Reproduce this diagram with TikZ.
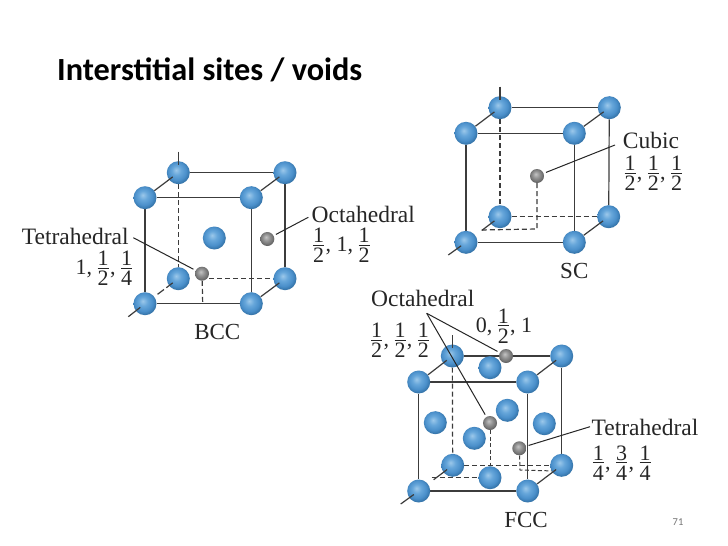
\documentclass[tikz,border=0pt]{standalone}
\usepackage{fontspec}
\setmainfont{Liberation Serif}
\newfontfamily\titlefont[Ligatures=Common]{Carlito}
\usetikzlibrary{backgrounds}
\definecolor{bHi}{HTML}{9CC8EA}
\definecolor{bMid}{HTML}{66A6DA}
\definecolor{bLow}{HTML}{4A8FCA}
\definecolor{bEdge}{HTML}{2A6698}
\definecolor{gHi}{HTML}{C4C4C4}
\definecolor{gMid}{HTML}{949494}
\definecolor{gLow}{HTML}{6C6C6C}
\definecolor{gEdge}{HTML}{444444}
\definecolor{lineC}{HTML}{3C3C3C}
\pgfdeclareradialshading{blueball}{\pgfpoint{-5bp}{6bp}}{color(0bp)=(bHi);color(10bp)=(bMid);color(20bp)=(bLow);color(30bp)=(bEdge);color(50bp)=(bEdge)}
\pgfdeclareradialshading{grayball}{\pgfpoint{-5bp}{7bp}}{color(0bp)=(gHi);color(12bp)=(gMid);color(24bp)=(gLow);color(32bp)=(gEdge);color(50bp)=(gEdge)}
\newcommand\fr[2]{\begingroup\renewcommand\arraystretch{.3}\setlength\arrayrulewidth{.7pt}\begin{tabular}[c]{@{}c@{}}#1\\\hline\rule{0pt}{17pt}#2\end{tabular}\endgroup\kern1.3pt}
\tikzset{
 ball/.style={circle,inner sep=0pt,minimum size=23pt,shading=blueball},
 gball/.style={circle,inner sep=0pt,minimum size=14pt,shading=grayball},
 cubeedge/.style={draw=lineC,line width=1.2pt},
 hid/.style={draw=lineC,line width=1.2pt,dash pattern=on 5pt off 3pt},
 thinhid/.style={draw=lineC,line width=1pt,dash pattern=on 4pt off 2.5pt},
 leader/.style={draw=black!85,line width=1pt,shorten >=2.5pt},
 lbl/.style={inner sep=0pt,anchor=base west,font=\fontsize{23.5}{26}\selectfont,text=black!85},
 lblc/.style={inner sep=0pt,anchor=base,font=\fontsize{23}{26}\selectfont,text=black!85},
 nums/.style={inner sep=0pt,anchor=west,font=\fontsize{22}{24}\selectfont,text=black!85},
}
\begin{document}
\begin{tikzpicture}[x=1pt,y=-1pt]
\useasboundingbox (0,0) rectangle (728,546);
\begin{scope}[on background layer]
\fill[white] (0,0) rectangle (728,546);
\end{scope}
\node[inner sep=0pt,anchor=base west,font=\titlefont\bfseries\fontsize{32.3}{36}\selectfont,text=black] (title) at (57,80) {Interstitial sites / voids};
\node[inner sep=0pt,font=\titlefont\fontsize{10.5}{12}\selectfont,text=black!55] (pnum) at (678,522) {71};

% ---------- BCC
\node[ball] (btbl) at (178.3,172.7) {};
\node[ball] (btbr) at (285,172.7) {};
\node[ball] (btfl) at (145,197.7) {};
\node[ball] (btfr) at (251.3,197.7) {};
\node[ball] (bbbl) at (178.3,278.7) {};
\node[ball] (bbbr) at (285,278.7) {};
\node[ball] (bbfl) at (145,303.7) {};
\node[ball] (bbfr) at (251.3,303.7) {};
\node[ball] (bcen) at (214.3,238) {};
\node[gball] (boct) at (267.3,239) {};
\node[gball] (btet) at (202,273.7) {};
\coordinate (bstub1) at (178.3,151.7);
\coordinate (bstub2) at (128.3,316.7);
\coordinate (bfoot) at (202.7,303.7);
\coordinate (bdash) at (209,278.7);
\begin{scope}[on background layer]
\draw[cubeedge] (btbl)--(btbr);
\draw[cubeedge] (btfl)--(btfr);
\draw[cubeedge] (btfl)--(bbfl);
\draw[cubeedge] (btfr)--(bbfr);
\draw[cubeedge] (btbr)--(bbbr);
\draw[cubeedge] (bbfl)--(bbfr);
\draw[hid] (btbl)--(bbbl);
\draw[hid] (bdash)--(bbbr);
\draw[hid] (btet)--(bfoot);
\end{scope}
\draw[cubeedge,shorten >=7pt] (btfl)--(btbl.center);
\draw[cubeedge,shorten >=7pt] (btfr)--(btbr.center);
\draw[cubeedge,shorten >=7pt] (bbfr)--(bbbr.center);
\draw[cubeedge,shorten >=7pt,shorten <=4pt,dash pattern=on 8pt off 3pt] (bbfl)--(bbbl.center);
\draw[cubeedge,shorten >=8pt] (bstub1)--(btbl.center);
\draw[cubeedge,shorten >=6pt] (bstub2)--(bbfl.center);
\node[lbl] (btxo) at (311.5,222.7) {Octahedral};
\node[nums] (bnumo) at (313,246.7) {\fr12, 1, \fr12};
\node[lbl] (btxt) at (21.7,244) {Tetrahedral};
\node[nums,anchor=east] (bnumt) at (133.5,269.5) {1, \fr12, \fr14};
\node[lblc] (bname) at (217.3,339) {BCC};
\coordinate (bl1) at (133.3,237.7);
\coordinate (bl2) at (308.3,217.3);
\draw[leader] (bl1)--(btet);
\draw[leader] (bl2)--(boct);

% ---------- SC
\node[ball] (stbl) at (500,107.7) {};
\node[ball] (stbr) at (609.3,107.7) {};
\node[ball] (stfl) at (466,133.3) {};
\node[ball] (stfr) at (574.3,133.3) {};
\node[ball] (sbbl) at (500,216.7) {};
\node[ball] (sbbr) at (608.7,216.7) {};
\node[ball] (sbfl) at (466,242.3) {};
\node[ball] (sbfr) at (574.3,242.3) {};
\node[gball] (scub) at (537,176) {};
\coordinate (sstub1) at (500,86.7);
\coordinate (sstub2) at (448.3,255);
\coordinate (sfoot) at (537,229);
\coordinate (sfootl) at (480,230);
\begin{scope}[on background layer]
\draw[cubeedge] (stbl)--(stbr);
\draw[cubeedge] (stfl)--(stfr);
\draw[cubeedge] (stfl)--(sbfl);
\draw[cubeedge] (stfr)--(sbfr);
\draw[cubeedge] (stbr)--(sbbr);
\draw[cubeedge] (sbfl)--(sbfr);
\draw[hid] (stbl)--(sbbl);
\draw[hid] (sbbl)--(sbbr);
\draw[hid] (scub)--(sfoot)--(sfootl);
\end{scope}
\draw[cubeedge,shorten >=7pt] (stfl)--(stbl.center);
\draw[cubeedge,shorten >=7pt] (stfr)--(stbr.center);
\draw[cubeedge,shorten >=7pt] (sbfr)--(sbbr.center);
\draw[cubeedge,shorten >=7pt,shorten <=8pt] (sbfl)--(sbbl.center);
\draw[cubeedge,shorten >=8pt] (sstub1)--(stbl.center);
\draw[cubeedge,shorten >=6pt] (sstub2)--(sbfl.center);
\node[lbl] (stx) at (622.7,148.3) {Cubic};
\node[nums] (snum) at (624.3,174.5) {\fr12, \fr12, \fr12};
\node[lblc] (sname) at (574.3,278) {SC};
\coordinate (sl1) at (615,145);
\draw[leader] (sl1)--(scub);

% ---------- FCC
\node[ball] (ftbl) at (452.3,356) {};
\node[ball] (ftbr) at (561.7,356) {};
\node[ball] (ftfl) at (418.7,382) {};
\node[ball] (ftfr) at (527.7,382) {};
\node[ball] (fbbl) at (452.7,465.3) {};
\node[ball] (fbbr) at (561.7,465.3) {};
\node[ball] (fbfl) at (418.7,491) {};
\node[ball] (fbfr) at (527.7,491) {};
\node[ball] (fctop) at (490,367.7) {};
\node[ball] (fclft) at (435.3,422.7) {};
\node[ball] (fcbck) at (507.3,410.3) {};
\node[ball] (fcfrt) at (474.3,438.3) {};
\node[ball] (fcrgt) at (544.3,423.7) {};
\node[ball] (fcbot) at (490,477.7) {};
\node[gball] (fg1) at (506,356) {};
\node[gball] (fg2) at (490,423) {};
\node[gball] (fg3) at (519.3,448.3) {};
\coordinate (fstub1) at (452.3,335);
\coordinate (fstub2) at (400.7,504);
\coordinate (ffoot) at (520,470);
\coordinate (ffootr) at (555,471);
\coordinate (ffl) at (431.7,477.7);
\begin{scope}[on background layer]
\draw[cubeedge] (ftbl)--(fg1);
\draw[cubeedge] (fg1)--(ftbr);
\draw[cubeedge] (ftfl)--(ftfr);
\draw[cubeedge] (ftfl)--(fbfl);
\draw[cubeedge] (ftfr)--(fbfr);
\draw[cubeedge] (ftbr)--(fbbr);
\draw[cubeedge] (fbfl)--(fbfr);
\draw[hid] (ftbl)--(fbbl);
\draw[hid] (fbbl)--(fbbr);
\draw[hid] (ffl)--(fcbot);
\draw[thinhid] (fg2)--(fcbot);
\draw[thinhid] (fg3)--(ffoot)--(ffootr);
\end{scope}
\draw[cubeedge,shorten >=7pt] (ftfl)--(ftbl.center);
\draw[cubeedge,shorten >=7pt] (ftfr)--(ftbr.center);
\draw[cubeedge,shorten >=7pt] (fbfr)--(fbbr.center);
\draw[cubeedge,shorten >=7pt,shorten <=7pt] (fbfl)--(fbbl.center);
\draw[cubeedge,shorten >=8pt] (fstub1)--(ftbl.center);
\draw[cubeedge,shorten >=6pt] (fstub2)--(fbfl.center);
\node[lbl] (fto) at (371,306.7) {Octahedral};
\node[nums] (fn1) at (371,341.5) {\fr12, \fr12, \fr12};
\node[nums] (fn2) at (475.7,327) {0, \fr12, 1};
\node[lbl] (ftt) at (591.5,435) {Tetrahedral};
\node[nums] (fn3) at (592.7,464) {\fr14, \fr34, \fr14};
\node[lblc] (fname) at (526,527.3) {FCC};
\coordinate (fap) at (426.7,313.3);
\coordinate (fl3) at (590,426.7);
\draw[leader] (fap)--(fg1);
\draw[leader] (fap)--(fg2);
\draw[leader] (fl3)--(fg3);
\end{tikzpicture}
\end{document}
